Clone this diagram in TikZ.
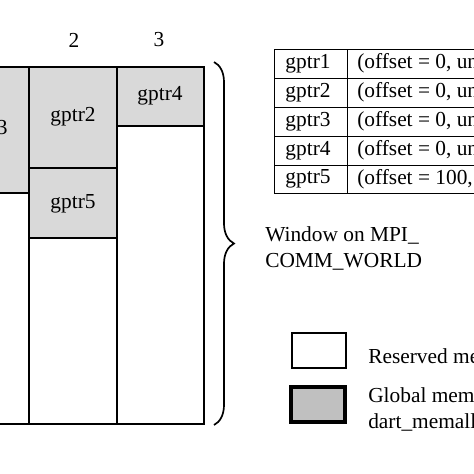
\documentclass[tikz,border=0pt]{standalone}
\usepackage{fontspec}
\setmainfont{Liberation Serif}
\usetikzlibrary{decorations.pathreplacing}
\definecolor{memgray}{RGB}{217,217,217}
\definecolor{keygray}{RGB}{192,192,192}
\tikzset{
  frame/.style={line width=2pt},
  grid/.style={line width=0.7pt},
  txt/.style={inner sep=0pt},
}
\begin{document}
\begin{tikzpicture}[x=0.025cm, y=-0.025cm, font=\fontsize{15.2}{18.5}\selectfont]
\useasboundingbox (0,0) rectangle (474,474);
\clip (0,0) rectangle (474,474);
% window of the units
\filldraw[frame, fill=memgray] (-59,67) rectangle (29,193);
\filldraw[frame, fill=memgray] (29,67) rectangle (117,168);
\filldraw[frame, fill=memgray] (29,168) rectangle (117,238);
\filldraw[frame, fill=memgray] (117,67) rectangle (204,126);
\draw[frame] (-59,67) rectangle (204,424);
\draw[frame] (29,67) -- (29,424);
\draw[frame] (117,67) -- (117,424);
\node (G_3) at (-15,130) {gptr3};
\node (G_2) at (73,117) {gptr2};
\node (G_5) at (73,204) {gptr5};
\node (G_4) at (160,96) {gptr4};
\node (U_2) at (74,40) {2};
\node (U_3) at (159,40) {3};
% brace
\coordinate (B_top) at (214,62);
\coordinate (B_bot) at (214,425);
\draw[line width=1.2pt, decorate, decoration={brace, amplitude=0.5cm}] (B_top) -- (B_bot);
\node[txt, anchor=west, align=left] (W) at (265,248) {Window on MPI\_\\COMM\_WORLD};
% table of pointers
\draw[grid] (274,49) rectangle (520,193);
\draw[grid] (274,78) -- (520,78);
\draw[grid] (274,107) -- (520,107);
\draw[grid] (274,136) -- (520,136);
\draw[grid] (274,165) -- (520,165);
\draw[grid] (347,49) -- (347,193);
\node (T_1_0) at (308,63.5) {gptr1};
\node[txt, anchor=west] (T_1_1) at (357,63.5) {(offset = 0, un};
\node (T_2_0) at (308,92.5) {gptr2};
\node[txt, anchor=west] (T_2_1) at (357,92.5) {(offset = 0, un};
\node (T_3_0) at (308,121.5) {gptr3};
\node[txt, anchor=west] (T_3_1) at (357,121.5) {(offset = 0, un};
\node (T_4_0) at (308,150.5) {gptr4};
\node[txt, anchor=west] (T_4_1) at (357,150.5) {(offset = 0, un};
\node (T_5_0) at (308,179) {gptr5};
\node[txt, anchor=west] (T_5_1) at (357,179) {(offset = 100,};
% legend
\draw[line width=1.4pt] (292,333) rectangle (346,368);
\filldraw[line width=2.2pt, fill=keygray] (291,387) rectangle (345,422);
\node[txt, anchor=west] (K_1) at (368,356) {Reserved mem};
\node[txt, anchor=west, align=left] (K_2) at (368,409) {Global memo\\dart\_memall};
\end{tikzpicture}
\end{document}
